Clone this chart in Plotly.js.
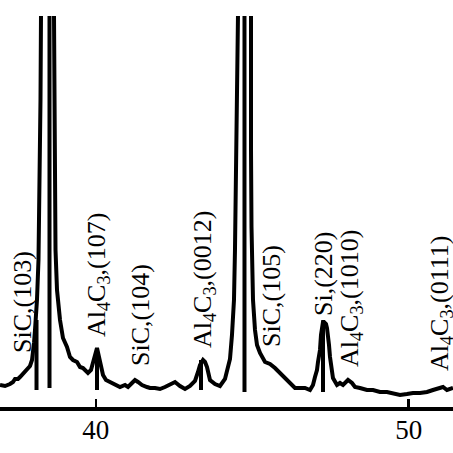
<!DOCTYPE html>
<html>
<head>
<meta charset="utf-8">
<script src="https://cdn.plot.ly/plotly-3.0.1.min.js"></script>
<style>html,body{margin:0;padding:0;background:#fff;}#chart{width:453px;height:453px;}</style>
</head>
<body>
<div id="chart"></div>
<script>
// XRD pattern (2θ in degrees, intensity in arbitrary units)
var twoTheta = [36.938,37.098,37.258,37.353,37.417,37.513,37.577,37.673,37.737,37.833,37.897,37.961,37.993,38.025,38.057,38.120,38.168,38.200,38.232,38.248,38.440,38.664,38.696,38.712,38.760,38.856,38.951,39.079,39.175,39.271,39.399,39.495,39.590,39.686,39.750,39.846,39.910,40.006,40.038,40.102,40.166,40.230,40.326,40.453,40.613,40.773,40.933,41.029,41.157,41.252,41.348,41.476,41.636,41.732,41.892,42.051,42.211,42.371,42.531,42.691,42.851,43.010,43.170,43.266,43.330,43.426,43.490,43.554,43.649,43.809,43.969,44.129,44.225,44.289,44.352,44.384,44.416,44.448,44.480,44.528,44.544,44.752,44.960,44.960,44.976,45.024,45.088,45.152,45.248,45.408,45.567,45.727,45.887,46.047,46.206,46.366,46.526,46.686,46.845,46.941,47.005,47.069,47.101,47.165,47.197,47.229,47.261,47.293,47.357,47.389,47.421,47.453,47.485,47.517,47.549,47.580,47.708,47.804,47.900,48.028,48.060,48.188,48.284,48.443,48.667,48.859,49.082,49.306,49.498,49.722,49.945,50.137,50.361,50.585,50.776,51.000,51.096,51.224,51.416];
var intensity = [23,22,24,26,29,29,31,34,36,39,42,48,55,65,78,108,148,208,308,392,1008,392,258,158,118,88,70,61,51,48,46,41,40,36,35,38,45,58,60,51,41,33,28,26,23,21,23,21,25,28,26,23,21,20,20,19,21,24,26,22,19,22,27,36,43,48,46,41,28,24,22,29,39,49,73,90,108,158,225,308,392,1008,392,258,181,108,78,63,55,46,44,40,35,30,24,20,20,20,18,23,31,38,46,58,73,82,86,86,84,80,73,63,51,41,33,30,23,25,23,27,28,25,21,20,18,18,16,16,15,13,14,15,15,16,18,20,21,18,20];

// Peak marker sticks
var stickPos  = [38.105, 38.520, 40.038, 43.362, 44.752, 47.261];
var stickBase = [18, 20, 18, 18, 16, 16];
var stickTop  = [88, 1008, 60, 48, 1008, 86];

// Phase labels
var labelText = ["SiC,(103)", "Al<sub>4</sub>C<sub>3</sub>,(107)", "SiC,(104)", "Al<sub>4</sub>C<sub>3</sub>,(0012)", "SiC,(105)", "Si,(220)", "Al<sub>4</sub>C<sub>3</sub>,(1010)", "Al<sub>4</sub>C<sub>3</sub>,(0111)"];
var labelX = [37.641, 40.070, 41.412, 43.458, 45.599, 47.261, 48.156, 51.032];
var labelY = [106, 133, 93, 128, 112, 135, 109, 105];

var xTickVals = [40, 50];

var sx = [], sy = [];
for (var i = 0; i < stickPos.length; i++) {
  sx.push(stickPos[i], stickPos[i], null);
  sy.push(stickBase[i], stickTop[i], null);
}

var FONT = '"Liberation Serif", "Times New Roman", Times, serif';

var traces = [
  {x: twoTheta, y: intensity, type: 'scatter', mode: 'lines',
   line: {color: '#000', width: 4}, hoverinfo: 'skip'},
  {x: sx, y: sy, type: 'scatter', mode: 'lines', connectgaps: false,
   line: {color: '#000', width: 4}, hoverinfo: 'skip'}
];

var annotations = labelText.map(function (t, i) {
  return {x: labelX[i], y: labelY[i], xref: 'x', yref: 'y', text: t,
          showarrow: false, textangle: -90, xanchor: 'center', yanchor: 'middle',
          font: {family: FONT, size: 26, color: '#000'}};
});

var layout = {
  width: 453, height: 453,
  margin: {l: 0, r: 0, t: 16, b: 46, pad: 0},
  paper_bgcolor: '#fff', plot_bgcolor: '#fff',
  showlegend: false,
  font: {family: FONT, color: '#000'},
  xaxis: {range: [36.938, 51.416], tickvals: xTickVals, ticktext: xTickVals.map(String),
          ticks: 'inside', ticklen: 8, tickwidth: 2.5, tickcolor: '#000',
          showline: true, linewidth: 4, linecolor: '#000',
          showgrid: false, zeroline: false, ticklabelstandoff: -4,
          tickfont: {family: FONT, size: 27, color: '#000'}},
  yaxis: {range: [1, 392], visible: false, showgrid: false, zeroline: false},
  annotations: annotations
};

Plotly.newPlot('chart', traces, layout, {staticPlot: true, displayModeBar: false});
</script>
</body>
</html>
